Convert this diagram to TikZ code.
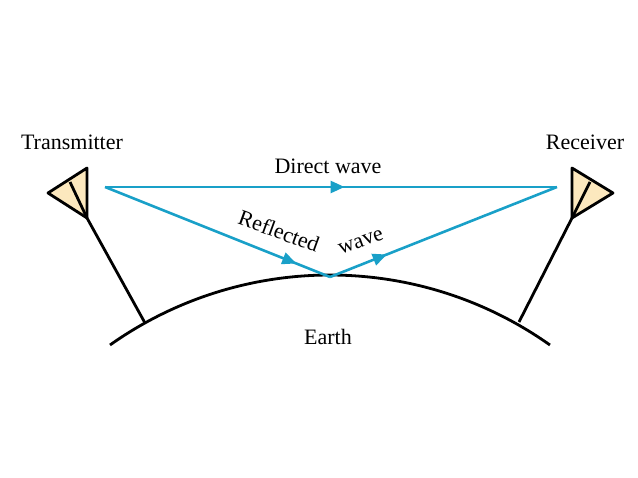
\documentclass[tikz,border=0pt]{standalone}
\usepackage{fontspec}
\setmainfont{Liberation Serif}
\usetikzlibrary{decorations.markings,arrows.meta}
\definecolor{wave}{RGB}{25,160,200}
\definecolor{horn}{RGB}{252,232,190}
\begin{document}
\begin{tikzpicture}[x=1pt,y=-1pt,
  lbl/.style={font=\fontsize{22}{26}\selectfont,inner sep=0},
  ray/.style={wave,line width=2.6pt},
  mid/.style={postaction={decorate},decoration={markings,mark=at position #1 with {\arrow{Triangle[length=14pt,width=12pt]}}}},
  ant/.style={draw=black,fill=horn,line width=2.8pt,line join=round},
  blk/.style={line width=2.8pt}]
\useasboundingbox (0,0) rectangle (638,478);
\coordinate (tx) at (105,187);
\coordinate (rx) at (557,187);
\coordinate (rf) at (330,277);
\draw[ant] (87,168) -- (48,193) -- (87,218) -- cycle;
\draw[blk] (70,182) -- (87,218);
\draw[blk] (87,218) -- (145,323);
\draw[ant] (572,168) -- (613,193) -- (572,218) -- cycle;
\draw[blk] (590,182) -- (572,218);
\draw[blk] (572,218) -- (519,322);
\draw[blk] (110,345) arc[start angle=234.7,end angle=305.3,radius=380.7];
\draw[ray,mid=0.53] (tx) -- (rx);
\draw[ray,mid=0.85] (tx) -- (rf);
\draw[ray,mid=0.25] (rf) -- (rx);
\node[lbl] (t) at (72,142) {Transmitter};
\node[lbl] (r) at (585,142) {Receiver};
\node[lbl] (d) at (328,166) {Direct wave};
\node[lbl,rotate=-20] (rl) at (279,231) {Reflected};
\node[lbl,rotate=20] (w) at (361,242) {wave};
\node[lbl] (e) at (328,337) {Earth};
\end{tikzpicture}
\end{document}
